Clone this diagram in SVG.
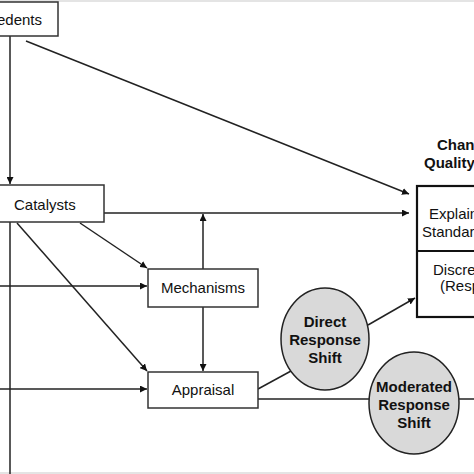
<svg xmlns="http://www.w3.org/2000/svg" width="474" height="474" viewBox="0 0 474 474">
<defs>
<marker id="ah" viewBox="0 0 10 10" refX="10" refY="5" markerWidth="7" markerHeight="7" markerUnits="userSpaceOnUse" orient="auto">
<path d="M0,0 L10,5 L0,10 z" fill="#111"/>
</marker>
</defs>
<style>
.box{fill:#fff;stroke:#333;stroke-width:1.5}
.big{fill:#fff;stroke:#111;stroke-width:2.2}
.ell{fill:#d9d9d9;stroke:#222;stroke-width:1.5}
.t{font-family:"Liberation Sans",Arial,sans-serif;font-size:15px;fill:#111}
.b{font-family:"Liberation Sans",Arial,sans-serif;font-size:15px;font-weight:bold;fill:#111}
.c{fill:none;stroke:#222;stroke-width:1.5}
</style>
<rect x="0" y="0" width="474" height="474" fill="#fff"/>
<rect x="0" y="0" width="474" height="2" fill="#e4e4e4"/>
<rect x="0" y="472" width="474" height="2" fill="#e4e4e4"/>
<g id="connectors">
<line class="c" x1="10" y1="36" x2="10" y2="184" marker-end="url(#ah)"/>
<line class="c" x1="10" y1="222" x2="10" y2="474"/>
<line class="c" x1="26" y1="41" x2="409" y2="194" marker-end="url(#ah)"/>
<line class="c" x1="104" y1="213" x2="409" y2="213" marker-end="url(#ah)"/>
<line class="c" x1="203" y1="269" x2="203" y2="214" marker-end="url(#ah)"/>
<line class="c" x1="80" y1="223" x2="147" y2="268" marker-end="url(#ah)"/>
<line class="c" x1="17" y1="223" x2="147" y2="371" marker-end="url(#ah)"/>
<line class="c" x1="0" y1="286" x2="147" y2="286" marker-end="url(#ah)"/>
<line class="c" x1="0" y1="389" x2="147" y2="389" marker-end="url(#ah)"/>
<line class="c" x1="203" y1="307" x2="203" y2="371" marker-end="url(#ah)"/>
<line class="c" x1="258" y1="389" x2="291" y2="371"/>
<line class="c" x1="368" y1="325" x2="415" y2="298" marker-end="url(#ah)"/>
<line class="c" x1="258" y1="399" x2="370" y2="399"/>
<line class="c" x1="459" y1="399" x2="474" y2="399"/>
</g>
<g id="antecedents">
<rect class="box" x="-60" y="2" width="118" height="34"/>
<text class="t" x="42" y="25" text-anchor="end">Antecedents</text>
</g>
<g id="catalysts">
<rect class="box" x="-14" y="185" width="118" height="37"/>
<text class="t" x="14" y="210">Catalysts</text>
</g>
<g id="mechanisms">
<rect class="box" x="148" y="269" width="110" height="38"/>
<text class="t" x="203" y="293" text-anchor="middle">Mechanisms</text>
</g>
<g id="appraisal">
<rect class="box" x="148" y="372" width="110" height="36"/>
<text class="t" x="203" y="395" text-anchor="middle">Appraisal</text>
</g>
<g id="change">
<text class="b" x="437" y="150">Change in</text>
<text class="b" x="424" y="168">Quality of Life</text>
<rect class="big" x="417" y="186" width="80" height="131"/>
<line x1="417" y1="251" x2="474" y2="251" stroke="#111" stroke-width="2"/>
<text class="t" x="429" y="219">Explained</text>
<text class="t" x="422" y="237">Standard</text>
<text class="t" x="433" y="275">Discrepancy</text>
<text class="t" x="440" y="291">(Response</text>
</g>
<g id="direct">
<ellipse class="ell" cx="325" cy="339" rx="44" ry="51"/>
<text class="b" x="325" y="327" text-anchor="middle">Direct</text>
<text class="b" x="325" y="345" text-anchor="middle">Response</text>
<text class="b" x="325" y="363" text-anchor="middle">Shift</text>
</g>
<g id="moderated">
<ellipse class="ell" cx="414" cy="403" rx="45" ry="51"/>
<text class="b" x="414" y="392" text-anchor="middle">Moderated</text>
<text class="b" x="414" y="410" text-anchor="middle">Response</text>
<text class="b" x="414" y="428" text-anchor="middle">Shift</text>
</g>
</svg>
